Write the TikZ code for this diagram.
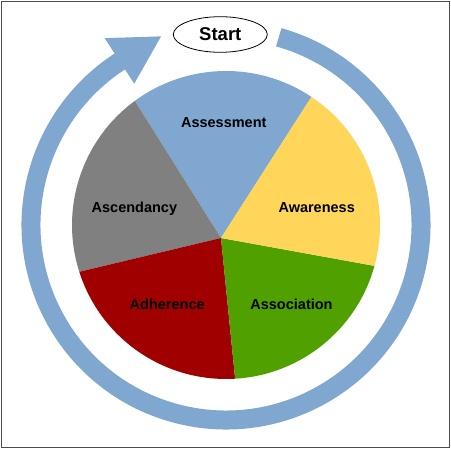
\documentclass[tikz,border=0pt]{standalone}
\usepackage{fontspec}
\setmainfont{Liberation Sans}
\usepackage{tikz}
\usetikzlibrary{shapes.geometric}
\definecolor{cycleblue}{RGB}{127,167,208}
\definecolor{awareyellow}{RGB}{255,213,90}
\definecolor{assocgreen}{RGB}{80,160,0}
\definecolor{adhered}{RGB}{160,0,0}
\definecolor{ascgray}{RGB}{128,128,128}

\begin{document}
\begin{tikzpicture}[
      x=1pt, y=1pt,
      frame/.style={draw=black!70, line width=1.2pt},
      ring/.style={draw=cycleblue, line width=19pt},
      head/.style={fill=cycleblue},
      startbox/.style={draw, ellipse, line width=0.8pt, minimum width=94pt,
                       minimum height=35.6pt, inner sep=0pt,
                       font=\fontsize{18.5}{20}\selectfont\bfseries},
      lbl/.style={anchor=base, inner sep=0pt,
                  font=\fontsize{14.5}{17}\selectfont\bfseries},
    ]
    \useasboundingbox (-226,-224) rectangle (225,225);
    \draw[frame] (-224.5,-222.5) rectangle (223.5,223.5);

    \coordinate (ctr) at (0,0);
    \coordinate (hub) at (-5,-13);

    % Pie wedges
    \fill[cycleblue]   (hub) -- (56.3:154) arc[start angle=56.3, end angle=126.3, radius=154] -- cycle;
    \fill[ascgray]     (hub) -- (126.3:154) arc[start angle=126.3, end angle=197.7, radius=154] -- cycle;
    \fill[adhered]     (hub) -- (197.7:154) arc[start angle=197.7, end angle=273.4, radius=154] -- cycle;
    \fill[assocgreen]  (hub) -- (-86.6:154) arc[start angle=-86.6, end angle=-15.4, radius=154] -- cycle;
    \fill[awareyellow] (hub) -- (-15.4:154) arc[start angle=-15.4, end angle=56.3, radius=154] -- cycle;

    % Cycle arrow
    \draw[ring] (74.3:195) arc[start angle=74.3, end angle=-237.6, radius=195];
    \fill[head] (123:168.5) -- (109:199.5) -- (123:222.8) -- cycle;

    % Start
    \node[startbox] (start) at (-5.7,190.5) {Start};

    % Labels
    \node[lbl] (assess) at (-2.2,97.3)   {Assessment};
    \node[lbl] (aware)  at (90.7,12)     {Awareness};
    \node[lbl] (ascend) at (-91.6,12)    {Ascendancy};
    \node[lbl] (adhere) at (-58.8,-84.8) {Adherence};
    \node[lbl] (assoc)  at (65.5,-84.8)  {Association};
  \end{tikzpicture}
\end{document}
